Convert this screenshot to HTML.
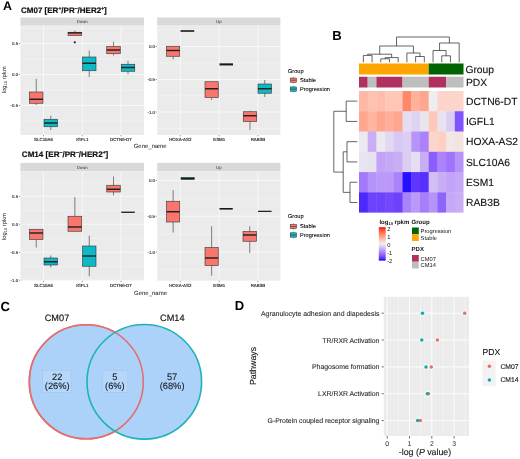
<!DOCTYPE html>
<html lang="en"><head><meta charset="utf-8"><title>Figure</title>
<style>html,body{margin:0;padding:0;background:#fff}body{width:520px;height:459px;overflow:hidden}svg{display:block}text{text-rendering:geometricPrecision;font-family:"Liberation Sans", sans-serif}</style>
</head><body>
<svg width="520" height="459" viewBox="0 0 520 459">
<rect width="520" height="459" fill="#fff"/>
<g id="panelA-top">
<text x="2.9" y="10" font-size="12.4" font-weight="bold" fill="#000">A</text>
<text x="21" y="12.7" font-size="8" font-weight="bold" fill="#111" stroke="#111" stroke-width="0.2" textLength="85.8" lengthAdjust="spacingAndGlyphs">CM07 [ER<tspan font-size="5" dy="-3">+</tspan><tspan dy="3">/PR</tspan><tspan font-size="5" dy="-3">−</tspan><tspan dy="3">/HER2</tspan><tspan font-size="5" dy="-3">+</tspan><tspan dy="3">]</tspan></text>
<rect x="20.4" y="17.5" width="123.6" height="8.100000000000001" fill="#D9D9D9"/>
<rect x="20.4" y="25.6" width="123.6" height="109.4" fill="#EBEBEB"/>
<line x1="20.4" x2="144" y1="28" y2="28" stroke="#fff" stroke-width="0.3"/>
<line x1="20.4" x2="144" y1="59" y2="59" stroke="#fff" stroke-width="0.3"/>
<line x1="20.4" x2="144" y1="90" y2="90" stroke="#fff" stroke-width="0.3"/>
<line x1="20.4" x2="144" y1="121" y2="121" stroke="#fff" stroke-width="0.3"/>
<line x1="20.4" x2="144" y1="43.5" y2="43.5" stroke="#fff" stroke-width="0.6"/>
<line x1="20.4" x2="144" y1="74.5" y2="74.5" stroke="#fff" stroke-width="0.6"/>
<line x1="20.4" x2="144" y1="105.5" y2="105.5" stroke="#fff" stroke-width="0.6"/>
<line x1="43.5" x2="43.5" y1="25.6" y2="135" stroke="#fff" stroke-width="0.6"/>
<line x1="82.3" x2="82.3" y1="25.6" y2="135" stroke="#fff" stroke-width="0.6"/>
<line x1="121.0" x2="121.0" y1="25.6" y2="135" stroke="#fff" stroke-width="0.6"/>
<text x="82.2" y="23.05" font-size="4.3" fill="#333" text-anchor="middle">Down</text>
<rect x="157.2" y="17.5" width="123.19999999999999" height="8.100000000000001" fill="#D9D9D9"/>
<rect x="157.2" y="25.6" width="123.19999999999999" height="109.4" fill="#EBEBEB"/>
<line x1="157.2" x2="280.4" y1="30" y2="30" stroke="#fff" stroke-width="0.3"/>
<line x1="157.2" x2="280.4" y1="63" y2="63" stroke="#fff" stroke-width="0.3"/>
<line x1="157.2" x2="280.4" y1="95.75" y2="95.75" stroke="#fff" stroke-width="0.3"/>
<line x1="157.2" x2="280.4" y1="128.5" y2="128.5" stroke="#fff" stroke-width="0.3"/>
<line x1="157.2" x2="280.4" y1="46.5" y2="46.5" stroke="#fff" stroke-width="0.6"/>
<line x1="157.2" x2="280.4" y1="79.5" y2="79.5" stroke="#fff" stroke-width="0.6"/>
<line x1="157.2" x2="280.4" y1="112" y2="112" stroke="#fff" stroke-width="0.6"/>
<line x1="180.3" x2="180.3" y1="25.6" y2="135" stroke="#fff" stroke-width="0.6"/>
<line x1="219.2" x2="219.2" y1="25.6" y2="135" stroke="#fff" stroke-width="0.6"/>
<line x1="257.9" x2="257.9" y1="25.6" y2="135" stroke="#fff" stroke-width="0.6"/>
<text x="218.79999999999998" y="23.05" font-size="4.3" fill="#333" text-anchor="middle">Up</text>
<line x1="20.2" x2="18.9" y1="43.5" y2="43.5" stroke="#333" stroke-width="0.5"/>
<text x="18.2" y="45.0" font-size="4.4" fill="#2e2e2e" stroke="#2e2e2e" stroke-width="0.12" text-anchor="end">0.5</text>
<line x1="20.2" x2="18.9" y1="74.5" y2="74.5" stroke="#333" stroke-width="0.5"/>
<text x="18.2" y="76.0" font-size="4.4" fill="#2e2e2e" stroke="#2e2e2e" stroke-width="0.12" text-anchor="end">0.0</text>
<line x1="20.2" x2="18.9" y1="105.5" y2="105.5" stroke="#333" stroke-width="0.5"/>
<text x="18.2" y="107.0" font-size="4.4" fill="#2e2e2e" stroke="#2e2e2e" stroke-width="0.12" text-anchor="end">-0.5</text>
<line x1="157" x2="155.7" y1="46.5" y2="46.5" stroke="#333" stroke-width="0.5"/>
<text x="155" y="48.0" font-size="4.4" fill="#2e2e2e" stroke="#2e2e2e" stroke-width="0.12" text-anchor="end">0.0</text>
<line x1="157" x2="155.7" y1="79.5" y2="79.5" stroke="#333" stroke-width="0.5"/>
<text x="155" y="81.0" font-size="4.4" fill="#2e2e2e" stroke="#2e2e2e" stroke-width="0.12" text-anchor="end">-0.5</text>
<line x1="157" x2="155.7" y1="112" y2="112" stroke="#333" stroke-width="0.5"/>
<text x="155" y="113.5" font-size="4.4" fill="#2e2e2e" stroke="#2e2e2e" stroke-width="0.12" text-anchor="end">-1.0</text>
<line x1="36.25" x2="36.25" y1="78.75" y2="92" stroke="#333" stroke-width="0.6"/>
<line x1="36.25" x2="36.25" y1="103.25" y2="105" stroke="#333" stroke-width="0.6"/>
<rect x="29.5" y="92" width="13.5" height="11.25" fill="#F8766D" stroke="#333" stroke-width="0.6"/>
<line x1="29.5" x2="43" y1="99.25" y2="99.25" stroke="#222" stroke-width="1.45"/>
<line x1="50.75" x2="50.75" y1="115.75" y2="119.25" stroke="#333" stroke-width="0.6"/>
<line x1="50.75" x2="50.75" y1="126.75" y2="130" stroke="#333" stroke-width="0.6"/>
<rect x="44" y="119.25" width="13.5" height="7.5" fill="#0CB9C5" stroke="#333" stroke-width="0.6"/>
<line x1="44" x2="57.5" y1="123" y2="123" stroke="#222" stroke-width="1.45"/>
<line x1="74.875" x2="74.875" y1="30.5" y2="32.25" stroke="#333" stroke-width="0.6"/>
<rect x="68" y="32.25" width="13.75" height="3.25" fill="#F8766D" stroke="#333" stroke-width="0.6"/>
<line x1="68" x2="81.75" y1="32.9" y2="32.9" stroke="#222" stroke-width="1.45"/>
<circle cx="74.8" cy="42.3" r="1.1" fill="#222"/>
<line x1="89.25" x2="89.25" y1="50.5" y2="57" stroke="#333" stroke-width="0.6"/>
<line x1="89.25" x2="89.25" y1="70.75" y2="77" stroke="#333" stroke-width="0.6"/>
<rect x="82.5" y="57" width="13.5" height="13.75" fill="#0CB9C5" stroke="#333" stroke-width="0.6"/>
<line x1="82.5" x2="96" y1="63.25" y2="63.25" stroke="#222" stroke-width="1.45"/>
<line x1="113.5" x2="113.5" y1="41.75" y2="46.5" stroke="#333" stroke-width="0.6"/>
<line x1="113.5" x2="113.5" y1="53.75" y2="55.5" stroke="#333" stroke-width="0.6"/>
<rect x="106.75" y="46.5" width="13.5" height="7.25" fill="#F8766D" stroke="#333" stroke-width="0.6"/>
<line x1="106.75" x2="120.25" y1="50" y2="50" stroke="#222" stroke-width="1.45"/>
<line x1="128.0" x2="128.0" y1="60.75" y2="64.25" stroke="#333" stroke-width="0.6"/>
<line x1="128.0" x2="128.0" y1="71.25" y2="74.25" stroke="#333" stroke-width="0.6"/>
<rect x="121.25" y="64.25" width="13.5" height="7.0" fill="#0CB9C5" stroke="#333" stroke-width="0.6"/>
<line x1="121.25" x2="134.75" y1="67.5" y2="67.5" stroke="#222" stroke-width="1.45"/>
<line x1="173.125" x2="173.125" y1="56.25" y2="59.5" stroke="#333" stroke-width="0.6"/>
<rect x="166.5" y="46.25" width="13.25" height="10.0" fill="#F8766D" stroke="#333" stroke-width="0.6"/>
<line x1="166.5" x2="179.75" y1="50.5" y2="50.5" stroke="#222" stroke-width="1.45"/>
<line x1="180.5" x2="194.25" y1="31" y2="31" stroke="#161a1a" stroke-width="1.6"/>
<line x1="211.625" x2="211.625" y1="97.5" y2="100" stroke="#333" stroke-width="0.6"/>
<rect x="205" y="81.75" width="13.25" height="15.75" fill="#F8766D" stroke="#333" stroke-width="0.6"/>
<line x1="205" x2="218.25" y1="88.75" y2="88.75" stroke="#222" stroke-width="1.45"/>
<line x1="219.5" x2="233" y1="64.4" y2="64.4" stroke="#161a1a" stroke-width="2.1"/>
<line x1="250.0" x2="250.0" y1="110.8" y2="111.75" stroke="#333" stroke-width="0.6"/>
<line x1="250.0" x2="250.0" y1="121.5" y2="130" stroke="#333" stroke-width="0.6"/>
<rect x="243.25" y="111.75" width="13.5" height="9.75" fill="#F8766D" stroke="#333" stroke-width="0.6"/>
<line x1="243.25" x2="256.75" y1="115.75" y2="115.75" stroke="#222" stroke-width="1.45"/>
<line x1="264.75" x2="264.75" y1="80" y2="84" stroke="#333" stroke-width="0.6"/>
<line x1="264.75" x2="264.75" y1="93.25" y2="97" stroke="#333" stroke-width="0.6"/>
<rect x="258" y="84" width="13.5" height="9.25" fill="#0CB9C5" stroke="#333" stroke-width="0.6"/>
<line x1="258" x2="271.5" y1="88.75" y2="88.75" stroke="#222" stroke-width="1.45"/>
<line x1="43.5" x2="43.5" y1="135.0" y2="136.3" stroke="#333" stroke-width="0.5"/>
<text x="43.5" y="141.3" font-size="4.4" fill="#222" stroke="#222" stroke-width="0.15" text-anchor="middle">SLC10A6</text>
<line x1="82.3" x2="82.3" y1="135.0" y2="136.3" stroke="#333" stroke-width="0.5"/>
<text x="82.3" y="141.3" font-size="4.4" fill="#222" stroke="#222" stroke-width="0.15" text-anchor="middle">IGFL1</text>
<line x1="121.0" x2="121.0" y1="135.0" y2="136.3" stroke="#333" stroke-width="0.5"/>
<text x="121.0" y="141.3" font-size="4.4" fill="#222" stroke="#222" stroke-width="0.15" text-anchor="middle">DCTN6-DT</text>
<line x1="180.3" x2="180.3" y1="135.0" y2="136.3" stroke="#333" stroke-width="0.5"/>
<text x="180.3" y="141.3" font-size="4.4" fill="#222" stroke="#222" stroke-width="0.15" text-anchor="middle">HOXA-AS2</text>
<line x1="219.2" x2="219.2" y1="135.0" y2="136.3" stroke="#333" stroke-width="0.5"/>
<text x="219.2" y="141.3" font-size="4.4" fill="#222" stroke="#222" stroke-width="0.15" text-anchor="middle">ESM1</text>
<line x1="257.9" x2="257.9" y1="135.0" y2="136.3" stroke="#333" stroke-width="0.5"/>
<text x="257.9" y="141.3" font-size="4.4" fill="#222" stroke="#222" stroke-width="0.15" text-anchor="middle">RAB3B</text>
<text x="150.2" y="148.4" font-size="6" fill="#111" text-anchor="middle">Gene_name</text>
<text transform="translate(5.8,79.8) rotate(-90)" font-size="5.8" fill="#111" text-anchor="middle">log<tspan font-size="4" dy="1.2">10</tspan><tspan dy="-1.2"> rpkm</tspan></text>
<text x="288" y="72.5" font-size="5.6" fill="#000" stroke="#000" stroke-width="0.08">Group</text>
<line x1="293.3" x2="293.3" y1="76.9" y2="83.5" stroke="#333" stroke-width="0.5"/>
<rect x="290.2" y="78.0" width="6.3" height="4.4" fill="#F8766D" stroke="#333" stroke-width="0.5"/>
<line x1="290.2" x2="296.5" y1="80.2" y2="80.2" stroke="#333" stroke-width="0.6"/>
<text x="300" y="82.15" font-size="5.6" fill="#000" stroke="#000" stroke-width="0.08">Stable</text>
<line x1="293.3" x2="293.3" y1="85.8" y2="92.39999999999999" stroke="#333" stroke-width="0.5"/>
<rect x="290.2" y="86.89999999999999" width="6.3" height="4.4" fill="#0CB9C5" stroke="#333" stroke-width="0.5"/>
<line x1="290.2" x2="296.5" y1="89.1" y2="89.1" stroke="#333" stroke-width="0.6"/>
<text x="300" y="91.05" font-size="5.6" fill="#000" stroke="#000" stroke-width="0.08">Progression</text>
</g>
<g id="panelA-bottom">
<text x="21.8" y="156.7" font-size="8" font-weight="bold" fill="#111" stroke="#111" stroke-width="0.2" textLength="86.5" lengthAdjust="spacingAndGlyphs">CM14 [ER<tspan font-size="5" dy="-3">−</tspan><tspan dy="3">/PR</tspan><tspan font-size="5" dy="-3">−</tspan><tspan dy="3">/HER2</tspan><tspan font-size="5" dy="-3">+</tspan><tspan dy="3">]</tspan></text>
<rect x="20.4" y="162.9" width="123.6" height="8.5" fill="#D9D9D9"/>
<rect x="20.4" y="171.4" width="123.6" height="109.29999999999998" fill="#EBEBEB"/>
<line x1="20.4" x2="144" y1="182.25" y2="182.25" stroke="#fff" stroke-width="0.3"/>
<line x1="20.4" x2="144" y1="210.25" y2="210.25" stroke="#fff" stroke-width="0.3"/>
<line x1="20.4" x2="144" y1="238.25" y2="238.25" stroke="#fff" stroke-width="0.3"/>
<line x1="20.4" x2="144" y1="266.25" y2="266.25" stroke="#fff" stroke-width="0.3"/>
<line x1="20.4" x2="144" y1="196.25" y2="196.25" stroke="#fff" stroke-width="0.6"/>
<line x1="20.4" x2="144" y1="224.25" y2="224.25" stroke="#fff" stroke-width="0.6"/>
<line x1="20.4" x2="144" y1="252.25" y2="252.25" stroke="#fff" stroke-width="0.6"/>
<line x1="20.4" x2="144" y1="280.2" y2="280.2" stroke="#fff" stroke-width="0.6"/>
<line x1="43.5" x2="43.5" y1="171.4" y2="280.7" stroke="#fff" stroke-width="0.6"/>
<line x1="82.3" x2="82.3" y1="171.4" y2="280.7" stroke="#fff" stroke-width="0.6"/>
<line x1="121.0" x2="121.0" y1="171.4" y2="280.7" stroke="#fff" stroke-width="0.6"/>
<text x="82.2" y="168.65" font-size="4.3" fill="#333" text-anchor="middle">Down</text>
<rect x="157.2" y="162.9" width="123.19999999999999" height="8.5" fill="#D9D9D9"/>
<rect x="157.2" y="171.4" width="123.19999999999999" height="109.29999999999998" fill="#EBEBEB"/>
<line x1="157.2" x2="280.4" y1="198.4" y2="198.4" stroke="#fff" stroke-width="0.3"/>
<line x1="157.2" x2="280.4" y1="234.1" y2="234.1" stroke="#fff" stroke-width="0.3"/>
<line x1="157.2" x2="280.4" y1="269.9" y2="269.9" stroke="#fff" stroke-width="0.3"/>
<line x1="157.2" x2="280.4" y1="180.5" y2="180.5" stroke="#fff" stroke-width="0.6"/>
<line x1="157.2" x2="280.4" y1="216.25" y2="216.25" stroke="#fff" stroke-width="0.6"/>
<line x1="157.2" x2="280.4" y1="252" y2="252" stroke="#fff" stroke-width="0.6"/>
<line x1="180.3" x2="180.3" y1="171.4" y2="280.7" stroke="#fff" stroke-width="0.6"/>
<line x1="219.2" x2="219.2" y1="171.4" y2="280.7" stroke="#fff" stroke-width="0.6"/>
<line x1="257.9" x2="257.9" y1="171.4" y2="280.7" stroke="#fff" stroke-width="0.6"/>
<text x="218.79999999999998" y="168.65" font-size="4.3" fill="#333" text-anchor="middle">Up</text>
<line x1="20.2" x2="18.9" y1="196.25" y2="196.25" stroke="#333" stroke-width="0.5"/>
<text x="18.2" y="197.75" font-size="4.4" fill="#2e2e2e" stroke="#2e2e2e" stroke-width="0.12" text-anchor="end">0.5</text>
<line x1="20.2" x2="18.9" y1="224.25" y2="224.25" stroke="#333" stroke-width="0.5"/>
<text x="18.2" y="225.75" font-size="4.4" fill="#2e2e2e" stroke="#2e2e2e" stroke-width="0.12" text-anchor="end">0.0</text>
<line x1="20.2" x2="18.9" y1="252.25" y2="252.25" stroke="#333" stroke-width="0.5"/>
<text x="18.2" y="253.75" font-size="4.4" fill="#2e2e2e" stroke="#2e2e2e" stroke-width="0.12" text-anchor="end">-0.5</text>
<line x1="20.2" x2="18.9" y1="280.2" y2="280.2" stroke="#333" stroke-width="0.5"/>
<text x="18.2" y="281.7" font-size="4.4" fill="#2e2e2e" stroke="#2e2e2e" stroke-width="0.12" text-anchor="end">-1.0</text>
<line x1="157" x2="155.7" y1="180.5" y2="180.5" stroke="#333" stroke-width="0.5"/>
<text x="155" y="182.0" font-size="4.4" fill="#2e2e2e" stroke="#2e2e2e" stroke-width="0.12" text-anchor="end">0.0</text>
<line x1="157" x2="155.7" y1="216.25" y2="216.25" stroke="#333" stroke-width="0.5"/>
<text x="155" y="217.75" font-size="4.4" fill="#2e2e2e" stroke="#2e2e2e" stroke-width="0.12" text-anchor="end">-0.5</text>
<line x1="157" x2="155.7" y1="252" y2="252" stroke="#333" stroke-width="0.5"/>
<text x="155" y="253.5" font-size="4.4" fill="#2e2e2e" stroke="#2e2e2e" stroke-width="0.12" text-anchor="end">-1.0</text>
<line x1="36.25" x2="36.25" y1="239.5" y2="247.5" stroke="#333" stroke-width="0.6"/>
<rect x="29.5" y="229.25" width="13.5" height="10.25" fill="#F8766D" stroke="#333" stroke-width="0.6"/>
<line x1="29.5" x2="43" y1="233" y2="233" stroke="#222" stroke-width="1.45"/>
<line x1="50.75" x2="50.75" y1="255.5" y2="258" stroke="#333" stroke-width="0.6"/>
<line x1="50.75" x2="50.75" y1="265" y2="267.5" stroke="#333" stroke-width="0.6"/>
<rect x="44" y="258" width="13.5" height="7" fill="#0CB9C5" stroke="#333" stroke-width="0.6"/>
<line x1="44" x2="57.5" y1="261.75" y2="261.75" stroke="#222" stroke-width="1.45"/>
<line x1="74.875" x2="74.875" y1="197" y2="216.25" stroke="#333" stroke-width="0.6"/>
<rect x="68" y="216.25" width="13.75" height="15.0" fill="#F8766D" stroke="#333" stroke-width="0.6"/>
<line x1="68" x2="81.75" y1="227" y2="227" stroke="#222" stroke-width="1.45"/>
<line x1="89.25" x2="89.25" y1="235.75" y2="246" stroke="#333" stroke-width="0.6"/>
<line x1="89.25" x2="89.25" y1="266.25" y2="276.25" stroke="#333" stroke-width="0.6"/>
<rect x="82.5" y="246" width="13.5" height="20.25" fill="#0CB9C5" stroke="#333" stroke-width="0.6"/>
<line x1="82.5" x2="96" y1="256" y2="256" stroke="#222" stroke-width="1.45"/>
<line x1="113.5" x2="113.5" y1="176.5" y2="185.25" stroke="#333" stroke-width="0.6"/>
<line x1="113.5" x2="113.5" y1="192" y2="195.5" stroke="#333" stroke-width="0.6"/>
<rect x="106.75" y="185.25" width="13.5" height="6.75" fill="#F8766D" stroke="#333" stroke-width="0.6"/>
<line x1="106.75" x2="120.25" y1="189.25" y2="189.25" stroke="#222" stroke-width="1.45"/>
<line x1="121.25" x2="134.75" y1="212.25" y2="212.25" stroke="#161a1a" stroke-width="1.3"/>
<line x1="173.125" x2="173.125" y1="190" y2="201.25" stroke="#333" stroke-width="0.6"/>
<line x1="173.125" x2="173.125" y1="222" y2="232.5" stroke="#333" stroke-width="0.6"/>
<rect x="166.5" y="201.25" width="13.25" height="20.75" fill="#F8766D" stroke="#333" stroke-width="0.6"/>
<line x1="166.5" x2="179.75" y1="211.75" y2="211.75" stroke="#222" stroke-width="1.45"/>
<rect x="181" y="177.6" width="13.25" height="1.8" fill="#0CB9C5" stroke="#222" stroke-width="0.5"/>
<line x1="181" x2="194.25" y1="178.5" y2="178.5" stroke="#161a1a" stroke-width="1.6"/>
<line x1="211.625" x2="211.625" y1="226.25" y2="247.5" stroke="#333" stroke-width="0.6"/>
<line x1="211.625" x2="211.625" y1="265.5" y2="275.75" stroke="#333" stroke-width="0.6"/>
<rect x="205" y="247.5" width="13.25" height="18.0" fill="#F8766D" stroke="#333" stroke-width="0.6"/>
<line x1="205" x2="218.25" y1="258" y2="258" stroke="#222" stroke-width="1.45"/>
<line x1="219.5" x2="232.75" y1="208.8" y2="208.8" stroke="#161a1a" stroke-width="1.6"/>
<line x1="249.75" x2="249.75" y1="226.25" y2="231.5" stroke="#333" stroke-width="0.6"/>
<line x1="249.75" x2="249.75" y1="241.25" y2="253" stroke="#333" stroke-width="0.6"/>
<rect x="243" y="231.5" width="13.5" height="9.75" fill="#F8766D" stroke="#333" stroke-width="0.6"/>
<line x1="243" x2="256.5" y1="235" y2="235" stroke="#222" stroke-width="1.45"/>
<line x1="258" x2="271.5" y1="211.35" y2="211.35" stroke="#161a1a" stroke-width="1.2"/>
<line x1="43.5" x2="43.5" y1="280.9" y2="282.2" stroke="#333" stroke-width="0.5"/>
<text x="43.5" y="287.2" font-size="4.4" fill="#222" stroke="#222" stroke-width="0.15" text-anchor="middle">SLC10A6</text>
<line x1="82.3" x2="82.3" y1="280.9" y2="282.2" stroke="#333" stroke-width="0.5"/>
<text x="82.3" y="287.2" font-size="4.4" fill="#222" stroke="#222" stroke-width="0.15" text-anchor="middle">IGFL1</text>
<line x1="121.0" x2="121.0" y1="280.9" y2="282.2" stroke="#333" stroke-width="0.5"/>
<text x="121.0" y="287.2" font-size="4.4" fill="#222" stroke="#222" stroke-width="0.15" text-anchor="middle">DCTN6-DT</text>
<line x1="180.3" x2="180.3" y1="280.9" y2="282.2" stroke="#333" stroke-width="0.5"/>
<text x="180.3" y="287.2" font-size="4.4" fill="#222" stroke="#222" stroke-width="0.15" text-anchor="middle">HOXA-AS2</text>
<line x1="219.2" x2="219.2" y1="280.9" y2="282.2" stroke="#333" stroke-width="0.5"/>
<text x="219.2" y="287.2" font-size="4.4" fill="#222" stroke="#222" stroke-width="0.15" text-anchor="middle">ESM1</text>
<line x1="257.9" x2="257.9" y1="280.9" y2="282.2" stroke="#333" stroke-width="0.5"/>
<text x="257.9" y="287.2" font-size="4.4" fill="#222" stroke="#222" stroke-width="0.15" text-anchor="middle">RAB3B</text>
<text x="150.5" y="295" font-size="6" fill="#111" text-anchor="middle">Gene_name</text>
<text transform="translate(5.8,226.6) rotate(-90)" font-size="5.8" fill="#111" text-anchor="middle">log<tspan font-size="4" dy="1.2">10</tspan><tspan dy="-1.2"> rpkm</tspan></text>
<text x="288" y="218.45" font-size="5.6" fill="#000" stroke="#000" stroke-width="0.08">Group</text>
<line x1="293.3" x2="293.3" y1="223.2" y2="229.8" stroke="#333" stroke-width="0.5"/>
<rect x="290.2" y="224.3" width="6.3" height="4.4" fill="#F8766D" stroke="#333" stroke-width="0.5"/>
<line x1="290.2" x2="296.5" y1="226.5" y2="226.5" stroke="#333" stroke-width="0.6"/>
<text x="300" y="228.45" font-size="5.6" fill="#000" stroke="#000" stroke-width="0.08">Stable</text>
<line x1="293.3" x2="293.3" y1="231.7" y2="238.3" stroke="#333" stroke-width="0.5"/>
<rect x="290.2" y="232.8" width="6.3" height="4.4" fill="#0CB9C5" stroke="#333" stroke-width="0.5"/>
<line x1="290.2" x2="296.5" y1="235" y2="235" stroke="#333" stroke-width="0.6"/>
<text x="300" y="236.95" font-size="5.6" fill="#000" stroke="#000" stroke-width="0.08">Progression</text>
</g>
<g id="panelB">
<text x="332.3" y="40.1" font-size="13.1" font-weight="bold" fill="#000">B</text>
<path d="M363.36 62.30V55.40H372.06V62.30" fill="none" stroke="#222" stroke-width="0.7"/>
<path d="M380.77 62.30V58.80H389.49V62.30" fill="none" stroke="#222" stroke-width="0.7"/>
<path d="M385.13 58.80V57.60H398.19V62.30" fill="none" stroke="#222" stroke-width="0.7"/>
<path d="M367.71 55.40V54.20H391.66V57.60" fill="none" stroke="#222" stroke-width="0.7"/>
<path d="M415.62 62.30V56.50H424.32V62.30" fill="none" stroke="#222" stroke-width="0.7"/>
<path d="M406.90 62.30V53.00H419.97V56.50" fill="none" stroke="#222" stroke-width="0.7"/>
<path d="M379.69 54.20V46.00H413.44V53.00" fill="none" stroke="#222" stroke-width="0.7"/>
<path d="M441.75 62.30V55.80H450.46V62.30" fill="none" stroke="#222" stroke-width="0.7"/>
<path d="M433.04 62.30V50.50H446.10V55.80" fill="none" stroke="#222" stroke-width="0.7"/>
<path d="M439.57 50.50V43.00H459.17V62.30" fill="none" stroke="#222" stroke-width="0.7"/>
<path d="M396.56 46.00V37.00H449.37V43.00" fill="none" stroke="#222" stroke-width="0.7"/>
<rect x="359.0" y="63.5" width="69.68" height="11" fill="#FFA500"/>
<rect x="428.68" y="63.5" width="34.84" height="11" fill="#006400"/>
<rect x="359.00" y="76.75" width="8.71" height="10.75" fill="#B03060"/>
<rect x="367.71" y="76.75" width="8.71" height="10.75" fill="#BEBEBE"/>
<rect x="376.42" y="76.75" width="26.13" height="10.75" fill="#B03060"/>
<rect x="402.55" y="76.75" width="26.13" height="10.75" fill="#BEBEBE"/>
<rect x="428.68" y="76.75" width="17.42" height="10.75" fill="#B03060"/>
<rect x="446.10" y="76.75" width="17.42" height="10.75" fill="#BEBEBE"/>
<rect x="359.00" y="91.00" width="9.11" height="20.67" fill="#ffb8a5"/>
<rect x="367.71" y="91.00" width="9.11" height="20.67" fill="#ffc1b0"/>
<rect x="376.42" y="91.00" width="9.11" height="20.67" fill="#ffbeac"/>
<rect x="385.13" y="91.00" width="9.11" height="20.67" fill="#ffc7b8"/>
<rect x="393.84" y="91.00" width="9.11" height="20.67" fill="#ffc7b8"/>
<rect x="402.55" y="91.00" width="9.11" height="20.67" fill="#ff8869"/>
<rect x="411.26" y="91.00" width="9.11" height="20.67" fill="#ffb19c"/>
<rect x="419.97" y="91.00" width="9.11" height="20.67" fill="#ffa68e"/>
<rect x="428.68" y="91.00" width="9.11" height="20.67" fill="#eeeeee"/>
<rect x="437.39" y="91.00" width="9.11" height="20.67" fill="#fbd4ca"/>
<rect x="446.10" y="91.00" width="9.11" height="20.67" fill="#fbd4ca"/>
<rect x="454.81" y="91.00" width="8.71" height="20.67" fill="#fbd4ca"/>
<rect x="359.00" y="111.27" width="9.11" height="20.67" fill="#ffa68e"/>
<rect x="367.71" y="111.27" width="9.11" height="20.67" fill="#ffb5a0"/>
<rect x="376.42" y="111.27" width="9.11" height="20.67" fill="#ffa68e"/>
<rect x="385.13" y="111.27" width="9.11" height="20.67" fill="#ffaf99"/>
<rect x="393.84" y="111.27" width="9.11" height="20.67" fill="#ffa68e"/>
<rect x="402.55" y="111.27" width="9.11" height="20.67" fill="#e5def0"/>
<rect x="411.26" y="111.27" width="9.11" height="20.67" fill="#dfd3f2"/>
<rect x="419.97" y="111.27" width="9.11" height="20.67" fill="#e9e5ef"/>
<rect x="428.68" y="111.27" width="9.11" height="20.67" fill="#ffc7b8"/>
<rect x="437.39" y="111.27" width="9.11" height="20.67" fill="#e8e3f0"/>
<rect x="446.10" y="111.27" width="9.11" height="20.67" fill="#dccef2"/>
<rect x="454.81" y="111.27" width="8.71" height="20.67" fill="#7f53fd"/>
<rect x="359.00" y="131.54" width="9.11" height="20.67" fill="#ebe9ef"/>
<rect x="367.71" y="131.54" width="9.11" height="20.67" fill="#c9aef6"/>
<rect x="376.42" y="131.54" width="9.11" height="20.67" fill="#ebe9ef"/>
<rect x="385.13" y="131.54" width="9.11" height="20.67" fill="#e2d8f1"/>
<rect x="393.84" y="131.54" width="9.11" height="20.67" fill="#d9c8f3"/>
<rect x="402.55" y="131.54" width="9.11" height="20.67" fill="#dccef2"/>
<rect x="411.26" y="131.54" width="9.11" height="20.67" fill="#b693f8"/>
<rect x="419.97" y="131.54" width="9.11" height="20.67" fill="#aa83fa"/>
<rect x="428.68" y="131.54" width="9.11" height="20.67" fill="#fbd4ca"/>
<rect x="437.39" y="131.54" width="9.11" height="20.67" fill="#fdd0c4"/>
<rect x="446.10" y="131.54" width="9.11" height="20.67" fill="#f2e7e4"/>
<rect x="454.81" y="131.54" width="8.71" height="20.67" fill="#f4e4e0"/>
<rect x="359.00" y="151.81" width="9.11" height="20.67" fill="#e8e3f0"/>
<rect x="367.71" y="151.81" width="9.11" height="20.67" fill="#e7e1f0"/>
<rect x="376.42" y="151.81" width="9.11" height="20.67" fill="#c2a3f7"/>
<rect x="385.13" y="151.81" width="9.11" height="20.67" fill="#c5a8f6"/>
<rect x="393.84" y="151.81" width="9.11" height="20.67" fill="#c9aef6"/>
<rect x="402.55" y="151.81" width="9.11" height="20.67" fill="#dccef2"/>
<rect x="411.26" y="151.81" width="9.11" height="20.67" fill="#e5def0"/>
<rect x="419.97" y="151.81" width="9.11" height="20.67" fill="#c9aef6"/>
<rect x="428.68" y="151.81" width="9.11" height="20.67" fill="#8a5efc"/>
<rect x="437.39" y="151.81" width="9.11" height="20.67" fill="#aa83fa"/>
<rect x="446.10" y="151.81" width="9.11" height="20.67" fill="#9d74fb"/>
<rect x="454.81" y="151.81" width="8.71" height="20.67" fill="#b693f8"/>
<rect x="359.00" y="172.08" width="9.11" height="20.67" fill="#a279fa"/>
<rect x="367.71" y="172.08" width="9.11" height="20.67" fill="#b693f8"/>
<rect x="376.42" y="172.08" width="9.11" height="20.67" fill="#ba99f8"/>
<rect x="385.13" y="172.08" width="9.11" height="20.67" fill="#ba99f8"/>
<rect x="393.84" y="172.08" width="9.11" height="20.67" fill="#aa83fa"/>
<rect x="402.55" y="172.08" width="9.11" height="20.67" fill="#250fff"/>
<rect x="411.26" y="172.08" width="9.11" height="20.67" fill="#5f36fe"/>
<rect x="419.97" y="172.08" width="9.11" height="20.67" fill="#5630fe"/>
<rect x="428.68" y="172.08" width="9.11" height="20.67" fill="#d3bef4"/>
<rect x="437.39" y="172.08" width="9.11" height="20.67" fill="#c9aef6"/>
<rect x="446.10" y="172.08" width="9.11" height="20.67" fill="#c2a3f7"/>
<rect x="454.81" y="172.08" width="8.71" height="20.67" fill="#c5a8f6"/>
<rect x="359.00" y="192.35" width="9.11" height="20.27" fill="#4d29fe"/>
<rect x="367.71" y="192.35" width="9.11" height="20.27" fill="#6d42fd"/>
<rect x="376.42" y="192.35" width="9.11" height="20.27" fill="#6d42fd"/>
<rect x="385.13" y="192.35" width="9.11" height="20.27" fill="#7348fd"/>
<rect x="393.84" y="192.35" width="9.11" height="20.27" fill="#6d42fd"/>
<rect x="402.55" y="192.35" width="9.11" height="20.27" fill="#aa83fa"/>
<rect x="411.26" y="192.35" width="9.11" height="20.27" fill="#ba99f8"/>
<rect x="419.97" y="192.35" width="9.11" height="20.27" fill="#a67efa"/>
<rect x="428.68" y="192.35" width="9.11" height="20.27" fill="#b693f8"/>
<rect x="437.39" y="192.35" width="9.11" height="20.27" fill="#8f64fc"/>
<rect x="446.10" y="192.35" width="9.11" height="20.27" fill="#c5a8f6"/>
<rect x="454.81" y="192.35" width="8.71" height="20.27" fill="#c9aef6"/>
<path d="M357.30 101.14H346.20V121.41H357.30" fill="none" stroke="#222" stroke-width="0.7"/>
<path d="M357.30 141.68H347.00V161.94H357.30" fill="none" stroke="#222" stroke-width="0.7"/>
<path d="M357.30 182.22H350.00V202.49H357.30" fill="none" stroke="#222" stroke-width="0.7"/>
<path d="M347.00 151.81H343.20V192.35H350.00" fill="none" stroke="#222" stroke-width="0.7"/>
<path d="M346.20 111.27H333.80V172.08H343.20" fill="none" stroke="#222" stroke-width="0.7"/>
<text x="465.4" y="72.6" font-size="10.3" fill="#111" stroke="#111" stroke-width="0.12">Group</text>
<text x="466" y="85.69999999999999" font-size="10.3" fill="#111" stroke="#111" stroke-width="0.12">PDX</text>
<text x="466" y="104.73" font-size="10.3" fill="#111" stroke="#111" stroke-width="0.12">DCTN6-DT</text>
<text x="466" y="125.00" font-size="10.3" fill="#111" stroke="#111" stroke-width="0.12">IGFL1</text>
<text x="466" y="145.28" font-size="10.3" fill="#111" stroke="#111" stroke-width="0.12">HOXA-AS2</text>
<text x="466" y="165.54" font-size="10.3" fill="#111" stroke="#111" stroke-width="0.12">SLC10A6</text>
<text x="466" y="185.81" font-size="10.3" fill="#111" stroke="#111" stroke-width="0.12">ESM1</text>
<text x="466" y="206.09" font-size="10.3" fill="#111" stroke="#111" stroke-width="0.12">RAB3B</text>
<defs><linearGradient id="hm" x1="0" y1="0" x2="0" y2="1"><stop offset="0.0000" stop-color="#ff0000"/><stop offset="0.0625" stop-color="#ff4326"/><stop offset="0.1250" stop-color="#ff6343"/><stop offset="0.1875" stop-color="#ff7e5e"/><stop offset="0.2500" stop-color="#ff967a"/><stop offset="0.3125" stop-color="#ffad96"/><stop offset="0.3750" stop-color="#ffc3b3"/><stop offset="0.4375" stop-color="#f9d9d0"/><stop offset="0.5000" stop-color="#eeeeee"/><stop offset="0.5625" stop-color="#dfd3f2"/><stop offset="0.6250" stop-color="#cfb8f5"/><stop offset="0.6875" stop-color="#be9ef7"/><stop offset="0.7500" stop-color="#aa83fa"/><stop offset="0.8125" stop-color="#9469fb"/><stop offset="0.8750" stop-color="#7a4efd"/><stop offset="0.9375" stop-color="#5630fe"/><stop offset="1.0000" stop-color="#0000ff"/></linearGradient></defs>
<text x="379.4" y="223.9" font-size="6" font-weight="bold" fill="#111">log<tspan font-size="4.1" dy="1.3">10</tspan><tspan dy="-1.3"> rpkm</tspan></text>
<rect x="378.8" y="227.2" width="6.9" height="33.4" fill="url(#hm)"/>
<text x="387.2" y="230.9" font-size="5.7" fill="#111">2</text>
<text x="387.2" y="239.20000000000002" font-size="5.7" fill="#111">1</text>
<text x="387.2" y="247.1" font-size="5.7" fill="#111">0</text>
<text x="387.2" y="254.9" font-size="5.7" fill="#111">-1</text>
<text x="387.2" y="262.7" font-size="5.7" fill="#111">-2</text>
<text x="411.6" y="223.9" font-size="6" font-weight="bold" fill="#111">Group</text>
<rect x="412" y="227.5" width="6.75" height="6.75" fill="#006400"/>
<rect x="412" y="234.25" width="6.75" height="6.75" fill="#FFA500"/>
<text x="420.6" y="232.8" font-size="5.75" fill="#111">Progression</text>
<text x="420.6" y="239.5" font-size="5.75" fill="#111">Stable</text>
<text x="411.6" y="251.2" font-size="6" font-weight="bold" fill="#111">PDX</text>
<rect x="412" y="255" width="6.75" height="6.75" fill="#B03060"/>
<rect x="412" y="261.75" width="6.75" height="6.75" fill="#BEBEBE"/>
<text x="420.6" y="260.5" font-size="5.75" fill="#111">CM07</text>
<text x="420.6" y="267.2" font-size="5.75" fill="#111">CM14</text>
</g>
<g id="panelC">
<text x="0.4" y="310.5" font-size="13.1" font-weight="bold" fill="#000">C</text>
<text x="57" y="321" font-size="9.2" fill="#111" stroke="#111" stroke-width="0.15" text-anchor="middle">CM07</text>
<text x="172.3" y="321" font-size="9.2" fill="#111" stroke="#111" stroke-width="0.15" text-anchor="middle">CM14</text>
<circle cx="86.3" cy="381.8" r="57" fill="#ADD2F9" stroke="#E36F6F" stroke-width="1.6"/>
<circle cx="144.3" cy="381.8" r="57.3" fill="#ADD2F9"/>
<circle cx="86.3" cy="381.8" r="57" fill="none" stroke="#E36F6F" stroke-width="1.6"/>
<circle cx="144.3" cy="381.8" r="57.3" fill="none" stroke="#1DB4B8" stroke-width="1.6"/>
<rect x="42.3" y="370.2" width="28.7" height="22.3" fill="#B6D7FA" stroke="#9FC1E8" stroke-width="0.5"/>
<rect x="102.8" y="370.2" width="25.1" height="22.3" fill="#B6D7FA" stroke="#9FC1E8" stroke-width="0.5"/>
<text x="57.2" y="379.7" font-size="9.3" fill="#151a22" stroke="#151a22" stroke-width="0.12" text-anchor="middle">22</text>
<text x="57.2" y="389.3" font-size="9.3" fill="#151a22" stroke="#151a22" stroke-width="0.12" text-anchor="middle">(26%)</text>
<text x="114.9" y="379.7" font-size="9.3" fill="#151a22" stroke="#151a22" stroke-width="0.12" text-anchor="middle">5</text>
<text x="114.9" y="389.3" font-size="9.3" fill="#151a22" stroke="#151a22" stroke-width="0.12" text-anchor="middle">(6%)</text>
<text x="172.1" y="379.7" font-size="9.3" fill="#151a22" stroke="#151a22" stroke-width="0.12" text-anchor="middle">57</text>
<text x="172.1" y="389.3" font-size="9.3" fill="#151a22" stroke="#151a22" stroke-width="0.12" text-anchor="middle">(68%)</text>
</g>
<g id="panelD">
<text x="234.7" y="310.2" font-size="13" font-weight="bold" fill="#000">D</text>
<rect x="383.8" y="296.8" width="85.20" height="139.20" fill="#EBEBEB"/>
<line x1="390.92" x2="390.92" y1="296.8" y2="436.0" stroke="#fff" stroke-opacity="0.6" stroke-width="0.3"/>
<line x1="394.63" x2="394.63" y1="296.8" y2="436.0" stroke="#fff" stroke-opacity="0.6" stroke-width="0.3"/>
<line x1="398.35" x2="398.35" y1="296.8" y2="436.0" stroke="#fff" stroke-opacity="0.9" stroke-width="0.45"/>
<line x1="402.07" x2="402.07" y1="296.8" y2="436.0" stroke="#fff" stroke-opacity="0.6" stroke-width="0.3"/>
<line x1="405.78" x2="405.78" y1="296.8" y2="436.0" stroke="#fff" stroke-opacity="0.6" stroke-width="0.3"/>
<line x1="413.22" x2="413.22" y1="296.8" y2="436.0" stroke="#fff" stroke-opacity="0.6" stroke-width="0.3"/>
<line x1="416.93" x2="416.93" y1="296.8" y2="436.0" stroke="#fff" stroke-opacity="0.6" stroke-width="0.3"/>
<line x1="420.65" x2="420.65" y1="296.8" y2="436.0" stroke="#fff" stroke-opacity="0.9" stroke-width="0.45"/>
<line x1="424.37" x2="424.37" y1="296.8" y2="436.0" stroke="#fff" stroke-opacity="0.6" stroke-width="0.3"/>
<line x1="428.08" x2="428.08" y1="296.8" y2="436.0" stroke="#fff" stroke-opacity="0.6" stroke-width="0.3"/>
<line x1="435.52" x2="435.52" y1="296.8" y2="436.0" stroke="#fff" stroke-opacity="0.6" stroke-width="0.3"/>
<line x1="439.23" x2="439.23" y1="296.8" y2="436.0" stroke="#fff" stroke-opacity="0.6" stroke-width="0.3"/>
<line x1="442.95" x2="442.95" y1="296.8" y2="436.0" stroke="#fff" stroke-opacity="0.9" stroke-width="0.45"/>
<line x1="446.67" x2="446.67" y1="296.8" y2="436.0" stroke="#fff" stroke-opacity="0.6" stroke-width="0.3"/>
<line x1="450.38" x2="450.38" y1="296.8" y2="436.0" stroke="#fff" stroke-opacity="0.6" stroke-width="0.3"/>
<line x1="457.82" x2="457.82" y1="296.8" y2="436.0" stroke="#fff" stroke-opacity="0.6" stroke-width="0.3"/>
<line x1="461.53" x2="461.53" y1="296.8" y2="436.0" stroke="#fff" stroke-opacity="0.6" stroke-width="0.3"/>
<line x1="465.25" x2="465.25" y1="296.8" y2="436.0" stroke="#fff" stroke-opacity="0.9" stroke-width="0.45"/>
<line x1="387.20" x2="387.20" y1="296.8" y2="436.0" stroke="#fff" stroke-width="0.9"/>
<line x1="409.50" x2="409.50" y1="296.8" y2="436.0" stroke="#fff" stroke-width="0.9"/>
<line x1="431.80" x2="431.80" y1="296.8" y2="436.0" stroke="#fff" stroke-width="0.9"/>
<line x1="454.10" x2="454.10" y1="296.8" y2="436.0" stroke="#fff" stroke-width="0.9"/>
<line x1="383.8" x2="469" y1="313.2" y2="313.2" stroke="#fff" stroke-width="0.9"/>
<line x1="383.8" x2="469" y1="340.0" y2="340.0" stroke="#fff" stroke-width="0.9"/>
<line x1="383.8" x2="469" y1="366.9" y2="366.9" stroke="#fff" stroke-width="0.9"/>
<line x1="383.8" x2="469" y1="393.75" y2="393.75" stroke="#fff" stroke-width="0.9"/>
<line x1="383.8" x2="469" y1="420.6" y2="420.6" stroke="#fff" stroke-width="0.9"/>
<line x1="383.8" x2="381.6" y1="313.2" y2="313.2" stroke="#333" stroke-width="0.7"/>
<text x="379.4" y="315.7" font-size="6.9" fill="#2a2a2a" stroke="#2a2a2a" stroke-width="0.1" text-anchor="end">Agranulocyte adhesion and diapedesis</text>
<line x1="383.8" x2="381.6" y1="340.0" y2="340.0" stroke="#333" stroke-width="0.7"/>
<text x="379.4" y="342.5" font-size="6.9" fill="#2a2a2a" stroke="#2a2a2a" stroke-width="0.1" text-anchor="end">TR/RXR Activation</text>
<line x1="383.8" x2="381.6" y1="366.9" y2="366.9" stroke="#333" stroke-width="0.7"/>
<text x="379.4" y="369.4" font-size="6.9" fill="#2a2a2a" stroke="#2a2a2a" stroke-width="0.1" text-anchor="end">Phagosome formation</text>
<line x1="383.8" x2="381.6" y1="393.75" y2="393.75" stroke="#333" stroke-width="0.7"/>
<text x="379.4" y="396.25" font-size="6.9" fill="#2a2a2a" stroke="#2a2a2a" stroke-width="0.1" text-anchor="end">LXR/RXR Activation</text>
<line x1="383.8" x2="381.6" y1="420.6" y2="420.6" stroke="#333" stroke-width="0.7"/>
<text x="379.4" y="423.1" font-size="6.9" fill="#2a2a2a" stroke="#2a2a2a" stroke-width="0.1" text-anchor="end">G-Protein coupled receptor signaling</text>
<line x1="387.20" x2="387.20" y1="436.0" y2="438.6" stroke="#333" stroke-width="0.7"/>
<text x="387.20" y="445.5" font-size="6.9" fill="#2a2a2a" text-anchor="middle">0</text>
<line x1="409.50" x2="409.50" y1="436.0" y2="438.6" stroke="#333" stroke-width="0.7"/>
<text x="409.50" y="445.5" font-size="6.9" fill="#2a2a2a" text-anchor="middle">1</text>
<line x1="431.80" x2="431.80" y1="436.0" y2="438.6" stroke="#333" stroke-width="0.7"/>
<text x="431.80" y="445.5" font-size="6.9" fill="#2a2a2a" text-anchor="middle">2</text>
<line x1="454.10" x2="454.10" y1="436.0" y2="438.6" stroke="#333" stroke-width="0.7"/>
<text x="454.10" y="445.5" font-size="6.9" fill="#2a2a2a" text-anchor="middle">3</text>
<circle cx="464.7" cy="313.2" r="3" fill="#fff" fill-opacity="0.35"/>
<circle cx="422.5" cy="313.2" r="3" fill="#fff" fill-opacity="0.35"/>
<circle cx="437.4" cy="340.0" r="3" fill="#fff" fill-opacity="0.35"/>
<circle cx="421.8" cy="340.0" r="3" fill="#fff" fill-opacity="0.35"/>
<circle cx="431.3" cy="366.9" r="3" fill="#fff" fill-opacity="0.35"/>
<circle cx="426" cy="366.9" r="3" fill="#fff" fill-opacity="0.35"/>
<circle cx="428.4" cy="393.75" r="3" fill="#fff" fill-opacity="0.35"/>
<circle cx="427.3" cy="393.75" r="3" fill="#fff" fill-opacity="0.35"/>
<circle cx="420.4" cy="420.6" r="3" fill="#fff" fill-opacity="0.35"/>
<circle cx="417.6" cy="420.6" r="3" fill="#fff" fill-opacity="0.35"/>
<circle cx="464.7" cy="313.2" r="1.75" fill="#E56F6A"/>
<circle cx="422.5" cy="313.2" r="1.75" fill="#18A8AE"/>
<circle cx="437.4" cy="340.0" r="1.75" fill="#E56F6A"/>
<circle cx="421.8" cy="340.0" r="1.75" fill="#18A8AE"/>
<circle cx="431.3" cy="366.9" r="1.75" fill="#E56F6A"/>
<circle cx="426" cy="366.9" r="1.75" fill="#18A8AE"/>
<circle cx="428.4" cy="393.75" r="1.75" fill="#E56F6A"/>
<circle cx="427.3" cy="393.75" r="1.75" fill="#18A8AE"/>
<circle cx="420.4" cy="420.6" r="1.75" fill="#E56F6A"/>
<circle cx="417.6" cy="420.6" r="1.75" fill="#18A8AE"/>
<text x="425" y="454.8" font-size="8.8" fill="#111" stroke="#111" stroke-width="0.1" text-anchor="middle">-log (<tspan font-style="italic">P</tspan> value)</text>
<text transform="translate(256,366) rotate(-90)" font-size="8.8" fill="#111" stroke="#111" stroke-width="0.1" text-anchor="middle">Pathways</text>
<text x="482.6" y="354.6" font-size="8.6" fill="#111" stroke="#111" stroke-width="0.1">PDX</text>
<rect x="482.4" y="360.4" width="13.2" height="25.8" fill="#F2F2F2"/>
<circle cx="489.4" cy="366.3" r="1.75" fill="#E56F6A"/>
<circle cx="489.4" cy="379.9" r="1.75" fill="#18A8AE"/>
<text x="500.4" y="368.6" font-size="6.8" fill="#111" stroke="#111" stroke-width="0.1">CM07</text>
<text x="500.4" y="382.1" font-size="6.8" fill="#111" stroke="#111" stroke-width="0.1">CM14</text>
</g>
</svg></body></html>
